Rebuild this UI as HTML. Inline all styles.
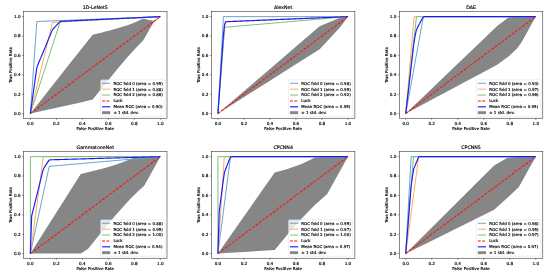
<!DOCTYPE html>
<html><head><meta charset="utf-8"><title>ROC curves</title>
<style>html,body{margin:0;padding:0;background:#fff;}svg{display:block;}</style>
</head><body>
<svg width="550" height="278" viewBox="0 0 550 278" font-family="'DejaVu Sans','Liberation Sans',sans-serif" fill="#000">
<style>text{text-rendering:geometricPrecision;stroke:#000;stroke-width:0.16px;stroke-linejoin:round}</style>
<rect width="550" height="278" fill="#fff"/>
<g>
<polygon fill="#868686" points="30.35,113.61 42.9,97.68 55.45,81.76 68,65.83 80.55,49.91 92.68,34.73 96.94,33.69 101.19,32.64 105.44,31.56 109.69,30.45 113.95,29.3 118.2,28.08 122.45,26.8 126.71,25.42 130.96,23.9 135.21,22.19 139.46,20.23 143.31,18.43 145.17,18.91 147.04,19.4 148.9,19.88 150.76,20.35 152.63,20.78 154.08,20.74 154.16,20.68 154.25,20.63 154.33,20.57 154.41,20.52 154.5,20.47 154.58,20.41 154.66,20.36 154.75,20.3 154.83,20.25 154.91,20.2 155,20.14 155.08,20.09 155.16,20.03 155.25,19.98 155.33,19.93 155.41,19.87 155.5,19.82 155.58,19.76 155.66,19.71 155.74,19.66 155.83,19.6 155.91,19.55 155.99,19.49 156.08,19.44 156.16,19.39 156.24,19.33 156.33,19.28 156.41,19.22 156.49,19.17 156.58,19.12 156.66,19.06 156.74,19.01 156.83,18.95 156.91,18.9 156.99,18.85 157.07,18.79 157.16,18.74 157.24,18.68 157.32,18.63 157.41,18.57 157.49,18.52 157.57,18.47 157.66,18.41 157.74,18.36 157.82,18.3 157.91,18.25 157.99,18.2 158.07,18.14 158.16,18.09 158.24,18.03 158.32,17.98 158.4,17.93 158.49,17.87 158.57,17.82 158.65,17.76 158.74,17.71 158.82,17.66 158.9,17.6 158.99,17.55 159.07,17.49 159.15,17.44 159.24,17.39 159.32,17.33 159.4,17.28 159.49,17.22 159.57,17.17 159.65,17.12 159.73,17.06 159.82,17.01 159.9,16.95 159.98,16.9 160.07,16.85 160.15,16.79 160.23,16.74 160.32,16.68 160.4,16.63 160.4,16.63 160.32,16.7 160.23,16.77 160.15,16.84 160.07,16.91 159.98,16.98 159.9,17.05 159.82,17.12 159.73,17.19 159.65,17.26 159.57,17.33 159.49,17.4 159.4,17.47 159.32,17.54 159.24,17.61 159.15,17.68 159.07,17.75 158.99,17.82 158.9,17.89 158.82,17.96 158.74,18.03 158.65,18.1 158.57,18.17 158.49,18.24 158.4,18.31 158.32,18.38 158.24,18.45 158.16,18.52 158.07,18.59 157.99,18.66 157.91,18.73 157.82,18.8 157.74,18.87 157.66,18.94 157.57,19.01 157.49,19.08 157.41,19.15 157.32,19.22 157.24,19.29 157.16,19.36 157.07,19.43 156.99,19.5 156.91,19.57 156.83,19.64 156.74,19.71 156.66,19.78 156.58,19.85 156.49,19.92 156.41,19.99 156.33,20.06 156.24,20.13 156.16,20.2 156.08,20.27 155.99,20.34 155.91,20.41 155.83,20.48 155.74,20.55 155.66,20.62 155.58,20.69 155.5,20.76 155.41,20.83 155.33,20.9 155.25,20.97 155.16,21.04 155.08,21.11 155,21.18 154.91,21.25 154.83,21.32 154.75,21.38 154.66,21.45 154.58,21.52 154.5,21.59 154.41,21.66 154.33,21.73 154.25,21.8 154.16,21.87 154.08,21.94 152.63,24.07 150.76,27.28 148.9,30.53 147.04,33.79 145.17,37.05 143.31,40.32 139.46,44.26 135.21,48.64 130.96,53.27 126.71,58.1 122.45,63.05 118.2,68.11 113.95,73.24 109.69,78.43 105.44,83.66 101.19,88.93 96.94,94.22 92.68,99.53 80.55,102.45 68,105.24 55.45,108.03 42.9,110.82 30.35,113.61"/>
<polyline fill="none" stroke="#6aa4d1" stroke-width="1.0" stroke-linejoin="round" points="30.35,113.61 36.85,21.48 160.4,16.63"/>
<polyline fill="none" stroke="#ffac63" stroke-width="1.0" stroke-linejoin="round" points="30.35,113.61 52.46,22.45 160.4,16.63"/>
<polyline fill="none" stroke="#78c278" stroke-width="1.0" stroke-linejoin="round" points="30.35,113.61 60.26,21.48 160.4,16.63"/>
<line x1="30.35" y1="113.61" x2="160.4" y2="16.63" stroke="#ff1010" stroke-width="1.05" stroke-dasharray="2.98,1.29"/>
<polyline fill="none" stroke="#1a1aff" stroke-width="1.15" stroke-linejoin="round" points="30.35,113.61 31.66,104.25 32.98,94.89 34.29,85.54 35.6,76.18 36.92,67.13 38.23,63.96 39.55,60.78 40.86,57.61 42.17,54.44 43.49,51.27 44.8,48.1 46.11,44.93 47.43,41.76 48.74,38.58 50.05,35.41 51.37,32.24 52.68,29.37 54,27.98 55.31,26.59 56.62,25.2 57.94,23.81 59.25,22.42 60.56,21.34 61.88,21.28 63.19,21.22 64.5,21.15 65.82,21.09 67.13,21.03 68.45,20.97 69.76,20.91 71.07,20.84 72.39,20.78 73.7,20.72 75.01,20.66 76.33,20.6 77.64,20.53 78.95,20.47 80.27,20.41 81.58,20.35 82.9,20.29 84.21,20.22 85.52,20.16 86.84,20.1 88.15,20.04 89.46,19.98 90.78,19.91 92.09,19.85 93.4,19.79 94.72,19.73 96.03,19.67 97.35,19.6 98.66,19.54 99.97,19.48 101.29,19.42 102.6,19.36 103.91,19.29 105.23,19.23 106.54,19.17 107.85,19.11 109.17,19.05 110.48,18.98 111.8,18.92 113.11,18.86 114.42,18.8 115.74,18.74 117.05,18.67 118.36,18.61 119.68,18.55 120.99,18.49 122.3,18.43 123.62,18.36 124.93,18.3 126.25,18.24 127.56,18.18 128.87,18.12 130.19,18.05 131.5,17.99 132.81,17.93 134.13,17.87 135.44,17.81 136.75,17.75 138.07,17.68 139.38,17.62 140.7,17.56 142.01,17.5 143.32,17.44 144.64,17.37 145.95,17.31 147.26,17.25 148.58,17.19 149.89,17.13 151.2,17.06 152.52,17 153.83,16.94 155.15,16.88 156.46,16.82 157.77,16.75 159.09,16.69 160.4,16.63"/>
<rect x="23.55" y="11.58" width="143.45" height="106.68" fill="none" stroke="#3a3a3a" stroke-width="0.6"/>
<line x1="30.35" y1="118.26" x2="30.35" y2="119.86" stroke="#222" stroke-width="0.45"/>
<text x="30.35" y="124.71" font-size="4.15" text-anchor="middle">0.0</text>
<line x1="21.95" y1="113.61" x2="23.55" y2="113.61" stroke="#222" stroke-width="0.45"/>
<text x="20.55" y="115.06" font-size="4.15" text-anchor="end">0.0</text>
<line x1="56.36" y1="118.26" x2="56.36" y2="119.86" stroke="#222" stroke-width="0.45"/>
<text x="56.36" y="124.71" font-size="4.15" text-anchor="middle">0.2</text>
<line x1="21.95" y1="94.21" x2="23.55" y2="94.21" stroke="#222" stroke-width="0.45"/>
<text x="20.55" y="95.66" font-size="4.15" text-anchor="end">0.2</text>
<line x1="82.37" y1="118.26" x2="82.37" y2="119.86" stroke="#222" stroke-width="0.45"/>
<text x="82.37" y="124.71" font-size="4.15" text-anchor="middle">0.4</text>
<line x1="21.95" y1="74.82" x2="23.55" y2="74.82" stroke="#222" stroke-width="0.45"/>
<text x="20.55" y="76.27" font-size="4.15" text-anchor="end">0.4</text>
<line x1="108.38" y1="118.26" x2="108.38" y2="119.86" stroke="#222" stroke-width="0.45"/>
<text x="108.38" y="124.71" font-size="4.15" text-anchor="middle">0.6</text>
<line x1="21.95" y1="55.42" x2="23.55" y2="55.42" stroke="#222" stroke-width="0.45"/>
<text x="20.55" y="56.87" font-size="4.15" text-anchor="end">0.6</text>
<line x1="134.39" y1="118.26" x2="134.39" y2="119.86" stroke="#222" stroke-width="0.45"/>
<text x="134.39" y="124.71" font-size="4.15" text-anchor="middle">0.8</text>
<line x1="21.95" y1="36.03" x2="23.55" y2="36.03" stroke="#222" stroke-width="0.45"/>
<text x="20.55" y="37.48" font-size="4.15" text-anchor="end">0.8</text>
<line x1="160.4" y1="118.26" x2="160.4" y2="119.86" stroke="#222" stroke-width="0.45"/>
<text x="160.4" y="124.71" font-size="4.15" text-anchor="middle">1.0</text>
<line x1="21.95" y1="16.63" x2="23.55" y2="16.63" stroke="#222" stroke-width="0.45"/>
<text x="20.55" y="18.08" font-size="4.15" text-anchor="end">1.0</text>
<text x="95.27" y="129.86" font-size="4.05" text-anchor="middle">False Positive Rate</text>
<text transform="translate(12.3,64.92) rotate(-90)" font-size="4.05" text-anchor="middle">True Positive Rate</text>
<text x="95.27" y="9.38" font-size="4.74" style="stroke-width:0.15px" text-anchor="middle">1D-LeNet5</text>
<rect x="100.55" y="79.78" width="64.5" height="36.48" rx="0.9" fill="#fff" fill-opacity="0.8" stroke="#ccc" stroke-opacity="0.8" stroke-width="0.4"/>
<line x1="102.05" y1="83.28" x2="110.25" y2="83.28" stroke="#6aa4d1" stroke-width="1.0"/>
<text x="113.45" y="84.73" font-size="4.0">ROC fold 0 (area = 0.95)</text>
<line x1="102.05" y1="89.16" x2="110.25" y2="89.16" stroke="#ffac63" stroke-width="1.0"/>
<text x="113.45" y="90.61" font-size="4.0">ROC fold 1 (area = 0.88)</text>
<line x1="102.05" y1="95.04" x2="110.25" y2="95.04" stroke="#78c278" stroke-width="1.0"/>
<text x="113.45" y="96.49" font-size="4.0">ROC fold 2 (area = 0.86)</text>
<line x1="102.05" y1="100.92" x2="110.25" y2="100.92" stroke="#ff1010" stroke-width="1.05" stroke-dasharray="2.98,1.29"/>
<text x="113.45" y="102.37" font-size="4.0">Luck</text>
<line x1="102.05" y1="106.8" x2="110.25" y2="106.8" stroke="#1a1aff" stroke-width="1.15"/>
<text x="113.45" y="108.25" font-size="4.0">Mean ROC (area = 0.90)</text>
<rect x="102.05" y="111.23" width="8.2" height="2.9" fill="#868686"/>
<text x="113.45" y="114.13" font-size="4.0">± 1 std. dev.</text>
</g>
<g>
<polygon fill="#868686" points="217.93,113.61 243.36,91.76 268.8,69.9 294.23,48.05 319.66,26.2 336.93,19.04 341.1,17.44 341.18,17.43 341.25,17.42 341.32,17.41 341.4,17.4 341.47,17.4 341.55,17.39 341.62,17.38 341.69,17.37 341.77,17.36 341.84,17.35 341.92,17.34 341.99,17.33 342.06,17.33 342.14,17.32 342.21,17.31 342.29,17.3 342.36,17.29 342.43,17.28 342.51,17.27 342.58,17.26 342.66,17.26 342.73,17.25 342.8,17.24 342.88,17.23 342.95,17.22 343.03,17.21 343.1,17.2 343.17,17.2 343.25,17.19 343.32,17.18 343.4,17.17 343.47,17.16 343.54,17.15 343.62,17.14 343.69,17.13 343.76,17.13 343.84,17.12 343.91,17.11 343.99,17.1 344.06,17.09 344.13,17.08 344.21,17.07 344.28,17.06 344.36,17.06 344.43,17.05 344.5,17.04 344.58,17.03 344.65,17.02 344.73,17.01 344.8,17 344.87,16.99 344.95,16.99 345.02,16.98 345.1,16.97 345.17,16.96 345.24,16.95 345.32,16.94 345.39,16.93 345.47,16.93 345.54,16.92 345.61,16.91 345.69,16.9 345.76,16.89 345.84,16.88 345.91,16.87 345.98,16.86 346.06,16.86 346.13,16.85 346.21,16.84 346.28,16.83 346.35,16.82 346.43,16.81 346.5,16.8 346.57,16.79 346.65,16.79 346.72,16.78 346.8,16.77 346.87,16.76 346.94,16.75 347.02,16.74 347.09,16.73 347.17,16.72 347.24,16.72 347.31,16.71 347.39,16.7 347.46,16.69 347.54,16.68 347.61,16.67 347.68,16.66 347.76,16.66 347.83,16.65 347.91,16.64 347.98,16.63 347.98,16.63 347.91,16.73 347.83,16.83 347.76,16.93 347.68,17.04 347.61,17.14 347.54,17.24 347.46,17.34 347.39,17.44 347.31,17.54 347.24,17.64 347.17,17.75 347.09,17.85 347.02,17.95 346.94,18.05 346.87,18.15 346.8,18.25 346.72,18.36 346.65,18.46 346.57,18.56 346.5,18.66 346.43,18.76 346.35,18.86 346.28,18.97 346.21,19.07 346.13,19.17 346.06,19.27 345.98,19.37 345.91,19.47 345.84,19.58 345.76,19.68 345.69,19.78 345.61,19.88 345.54,19.98 345.47,20.08 345.39,20.18 345.32,20.29 345.24,20.39 345.17,20.49 345.1,20.59 345.02,20.69 344.95,20.79 344.87,20.9 344.8,21 344.73,21.1 344.65,21.2 344.58,21.3 344.5,21.4 344.43,21.51 344.36,21.61 344.28,21.71 344.21,21.81 344.13,21.91 344.06,22.01 343.99,22.11 343.91,22.22 343.84,22.32 343.76,22.42 343.69,22.52 343.62,22.62 343.54,22.72 343.47,22.83 343.4,22.93 343.32,23.03 343.25,23.13 343.17,23.23 343.1,23.33 343.03,23.44 342.95,23.54 342.88,23.64 342.8,23.74 342.73,23.84 342.66,23.94 342.58,24.04 342.51,24.15 342.43,24.25 342.36,24.35 342.29,24.45 342.21,24.55 342.14,24.65 342.06,24.76 341.99,24.86 341.92,24.96 341.84,25.06 341.77,25.16 341.69,25.26 341.62,25.37 341.55,25.47 341.47,25.57 341.4,25.67 341.32,25.77 341.25,25.87 341.18,25.98 341.1,26.08 336.93,30.69 319.66,49.29 294.23,65.37 268.8,81.45 243.36,97.53 217.93,113.61"/>
<polyline fill="none" stroke="#6aa4d1" stroke-width="1.0" stroke-linejoin="round" points="217.93,113.61 223.46,16.63 347.98,16.63"/>
<polyline fill="none" stroke="#ffac63" stroke-width="1.0" stroke-linejoin="round" points="217.93,113.61 225.08,21.48 347.98,16.63"/>
<polyline fill="none" stroke="#78c278" stroke-width="1.0" stroke-linejoin="round" points="217.93,113.61 224.63,27.3 347.98,16.63"/>
<line x1="217.93" y1="113.61" x2="347.98" y2="16.63" stroke="#ff1010" stroke-width="1.05" stroke-dasharray="2.98,1.29"/>
<polyline fill="none" stroke="#1a1aff" stroke-width="1.15" stroke-linejoin="round" points="217.93,113.61 219.24,94.64 220.56,75.68 221.87,56.71 223.18,37.74 224.5,24.87 225.81,21.76 227.13,21.7 228.44,21.65 229.75,21.59 231.07,21.54 232.38,21.48 233.69,21.43 235.01,21.37 236.32,21.32 237.63,21.26 238.95,21.21 240.26,21.15 241.58,21.1 242.89,21.04 244.2,20.99 245.52,20.93 246.83,20.88 248.14,20.82 249.46,20.77 250.77,20.71 252.08,20.65 253.4,20.6 254.71,20.54 256.03,20.49 257.34,20.43 258.65,20.38 259.97,20.32 261.28,20.27 262.59,20.21 263.91,20.16 265.22,20.1 266.53,20.05 267.85,19.99 269.16,19.94 270.48,19.88 271.79,19.83 273.1,19.77 274.42,19.72 275.73,19.66 277.04,19.61 278.36,19.55 279.67,19.5 280.98,19.44 282.3,19.39 283.61,19.33 284.93,19.28 286.24,19.22 287.55,19.17 288.87,19.11 290.18,19.06 291.49,19 292.81,18.95 294.12,18.89 295.43,18.83 296.75,18.78 298.06,18.72 299.38,18.67 300.69,18.61 302,18.56 303.32,18.5 304.63,18.45 305.94,18.39 307.26,18.34 308.57,18.28 309.88,18.23 311.2,18.17 312.51,18.12 313.83,18.06 315.14,18.01 316.45,17.95 317.77,17.9 319.08,17.84 320.39,17.79 321.71,17.73 323.02,17.68 324.33,17.62 325.65,17.57 326.96,17.51 328.28,17.46 329.59,17.4 330.9,17.35 332.22,17.29 333.53,17.24 334.84,17.18 336.16,17.13 337.47,17.07 338.78,17.02 340.1,16.96 341.41,16.9 342.73,16.85 344.04,16.79 345.35,16.74 346.67,16.68 347.98,16.63"/>
<rect x="211.43" y="11.58" width="143.45" height="106.68" fill="none" stroke="#3a3a3a" stroke-width="0.6"/>
<line x1="217.93" y1="118.26" x2="217.93" y2="119.86" stroke="#222" stroke-width="0.45"/>
<text x="217.93" y="124.71" font-size="4.15" text-anchor="middle">0.0</text>
<line x1="209.83" y1="113.61" x2="211.43" y2="113.61" stroke="#222" stroke-width="0.45"/>
<text x="208.43" y="115.06" font-size="4.15" text-anchor="end">0.0</text>
<line x1="243.94" y1="118.26" x2="243.94" y2="119.86" stroke="#222" stroke-width="0.45"/>
<text x="243.94" y="124.71" font-size="4.15" text-anchor="middle">0.2</text>
<line x1="209.83" y1="94.21" x2="211.43" y2="94.21" stroke="#222" stroke-width="0.45"/>
<text x="208.43" y="95.66" font-size="4.15" text-anchor="end">0.2</text>
<line x1="269.95" y1="118.26" x2="269.95" y2="119.86" stroke="#222" stroke-width="0.45"/>
<text x="269.95" y="124.71" font-size="4.15" text-anchor="middle">0.4</text>
<line x1="209.83" y1="74.82" x2="211.43" y2="74.82" stroke="#222" stroke-width="0.45"/>
<text x="208.43" y="76.27" font-size="4.15" text-anchor="end">0.4</text>
<line x1="295.96" y1="118.26" x2="295.96" y2="119.86" stroke="#222" stroke-width="0.45"/>
<text x="295.96" y="124.71" font-size="4.15" text-anchor="middle">0.6</text>
<line x1="209.83" y1="55.42" x2="211.43" y2="55.42" stroke="#222" stroke-width="0.45"/>
<text x="208.43" y="56.87" font-size="4.15" text-anchor="end">0.6</text>
<line x1="321.97" y1="118.26" x2="321.97" y2="119.86" stroke="#222" stroke-width="0.45"/>
<text x="321.97" y="124.71" font-size="4.15" text-anchor="middle">0.8</text>
<line x1="209.83" y1="36.03" x2="211.43" y2="36.03" stroke="#222" stroke-width="0.45"/>
<text x="208.43" y="37.48" font-size="4.15" text-anchor="end">0.8</text>
<line x1="347.98" y1="118.26" x2="347.98" y2="119.86" stroke="#222" stroke-width="0.45"/>
<text x="347.98" y="124.71" font-size="4.15" text-anchor="middle">1.0</text>
<line x1="209.83" y1="16.63" x2="211.43" y2="16.63" stroke="#222" stroke-width="0.45"/>
<text x="208.43" y="18.08" font-size="4.15" text-anchor="end">1.0</text>
<text x="283.15" y="129.86" font-size="4.05" text-anchor="middle">False Positive Rate</text>
<text transform="translate(200.18,64.92) rotate(-90)" font-size="4.05" text-anchor="middle">True Positive Rate</text>
<text x="283.15" y="9.38" font-size="4.74" style="stroke-width:0.15px" text-anchor="middle">AlexNet</text>
<rect x="288.43" y="79.78" width="64.5" height="36.48" rx="0.9" fill="#fff" fill-opacity="0.8" stroke="#ccc" stroke-opacity="0.8" stroke-width="0.4"/>
<line x1="289.93" y1="83.28" x2="298.13" y2="83.28" stroke="#6aa4d1" stroke-width="1.0"/>
<text x="301.33" y="84.73" font-size="4.0">ROC fold 0 (area = 0.98)</text>
<line x1="289.93" y1="89.16" x2="298.13" y2="89.16" stroke="#ffac63" stroke-width="1.0"/>
<text x="301.33" y="90.61" font-size="4.0">ROC fold 1 (area = 0.95)</text>
<line x1="289.93" y1="95.04" x2="298.13" y2="95.04" stroke="#78c278" stroke-width="1.0"/>
<text x="301.33" y="96.49" font-size="4.0">ROC fold 2 (area = 0.92)</text>
<line x1="289.93" y1="100.92" x2="298.13" y2="100.92" stroke="#ff1010" stroke-width="1.05" stroke-dasharray="2.98,1.29"/>
<text x="301.33" y="102.37" font-size="4.0">Luck</text>
<line x1="289.93" y1="106.8" x2="298.13" y2="106.8" stroke="#1a1aff" stroke-width="1.15"/>
<text x="301.33" y="108.25" font-size="4.0">Mean ROC (area = 0.95)</text>
<rect x="289.93" y="111.23" width="8.2" height="2.9" fill="#868686"/>
<text x="301.33" y="114.13" font-size="4.0">± 1 std. dev.</text>
</g>
<g>
<polygon fill="#868686" points="405.71,113.61 420.94,99.02 436.17,84.44 451.41,69.85 466.64,55.27 481.87,40.68 497.1,26.09 508.53,17.47 517.02,16.63 521.39,16.63 524.61,16.63 527.83,16.63 531.05,16.63 534.27,16.63 535.76,16.63 535.76,16.63 535.76,16.63 535.76,16.63 535.76,16.63 535.76,16.63 535.76,16.63 535.76,16.63 535.76,16.63 535.76,16.63 535.76,16.63 535.76,16.63 535.76,16.63 535.76,16.63 535.76,16.63 535.76,16.63 535.76,16.63 535.76,16.63 535.76,16.63 535.76,16.63 535.76,16.63 535.76,16.63 535.76,16.63 535.76,16.63 535.76,16.63 535.76,16.63 535.76,16.63 535.76,16.63 535.76,16.63 535.76,16.63 535.76,16.63 535.76,16.63 535.76,16.63 535.76,16.63 535.76,16.63 535.76,16.63 535.76,16.63 535.76,16.63 535.76,16.63 535.76,16.63 535.76,16.63 535.76,16.63 535.76,16.63 535.76,16.63 535.76,16.63 535.76,16.63 535.76,16.63 535.76,16.63 535.76,16.63 535.76,16.63 535.76,16.63 535.76,16.63 535.76,16.63 535.76,16.63 535.76,16.63 535.76,16.63 535.76,16.63 535.76,16.63 535.76,16.63 535.76,16.63 535.76,16.63 535.76,16.63 535.76,16.63 535.76,16.63 535.76,16.63 535.76,16.63 535.76,16.63 535.76,16.63 535.76,16.63 535.76,16.63 535.76,16.63 535.76,16.63 535.76,16.63 535.76,16.63 535.76,16.63 535.76,16.63 535.76,16.63 535.76,16.63 535.76,16.63 535.76,16.63 535.76,16.63 535.76,16.63 535.76,16.63 535.76,16.63 535.76,16.63 535.76,16.63 535.76,16.63 535.76,16.63 535.76,16.63 535.76,16.63 535.76,16.63 535.76,16.63 535.76,16.63 535.76,16.63 535.76,16.63 535.76,16.63 535.76,16.63 535.76,16.63 535.76,16.63 535.76,16.63 535.76,16.63 535.76,16.63 535.76,16.63 535.76,16.63 535.76,16.63 535.76,16.63 535.76,16.63 535.76,16.63 535.76,16.63 535.76,16.63 535.76,16.63 535.76,16.63 535.76,16.63 535.76,16.63 535.76,16.63 535.76,16.63 535.76,16.63 535.76,16.63 535.76,16.63 535.76,16.63 535.76,16.63 535.76,16.63 535.76,16.63 535.76,16.63 535.76,16.63 535.76,16.63 535.76,16.63 535.76,16.63 535.76,16.63 535.76,16.63 535.76,16.63 535.76,16.63 535.76,16.63 535.76,16.63 535.76,16.63 535.76,16.63 535.76,16.63 535.76,16.63 535.76,16.63 535.76,16.63 535.76,16.63 535.76,16.63 535.76,16.63 535.76,16.63 535.76,16.63 535.76,16.63 535.76,16.63 535.76,16.63 535.76,16.63 535.76,16.63 535.76,16.63 535.76,16.63 535.76,16.63 535.76,16.63 535.76,16.63 535.76,16.63 535.76,16.63 535.76,16.63 535.76,16.63 535.76,16.63 535.76,16.63 535.76,16.63 535.76,16.63 535.76,16.63 535.76,16.63 535.76,16.63 535.76,16.63 535.76,16.63 535.76,16.63 535.76,16.63 535.76,16.63 535.76,16.63 534.27,19.32 531.05,25.12 527.83,30.91 524.61,36.71 521.39,42.5 517.02,48.58 508.53,56.4 497.1,64.82 481.87,72.95 466.64,81.08 451.41,89.22 436.17,97.35 420.94,105.48 405.71,113.61"/>
<polyline fill="none" stroke="#6aa4d1" stroke-width="1.0" stroke-linejoin="round" points="405.71,113.61 423.4,16.63 535.76,16.63"/>
<polyline fill="none" stroke="#ffac63" stroke-width="1.0" stroke-linejoin="round" points="405.71,113.61 414.16,16.63 535.76,16.63"/>
<polyline fill="none" stroke="#78c278" stroke-width="1.0" stroke-linejoin="round" points="405.71,113.61 416.5,16.63 535.76,16.63"/>
<line x1="405.71" y1="113.61" x2="535.76" y2="16.63" stroke="#ff1010" stroke-width="1.05" stroke-dasharray="2.98,1.29"/>
<polyline fill="none" stroke="#1a1aff" stroke-width="1.15" stroke-linejoin="round" points="405.71,113.61 407.02,102.25 408.34,90.89 409.65,79.53 410.96,68.18 412.28,56.82 413.59,45.46 414.91,36.94 416.22,30.6 417.53,27.35 418.85,24.95 420.16,22.55 421.47,20.14 422.79,17.74 424.1,16.63 425.41,16.63 426.73,16.63 428.04,16.63 429.36,16.63 430.67,16.63 431.98,16.63 433.3,16.63 434.61,16.63 435.92,16.63 437.24,16.63 438.55,16.63 439.86,16.63 441.18,16.63 442.49,16.63 443.81,16.63 445.12,16.63 446.43,16.63 447.75,16.63 449.06,16.63 450.37,16.63 451.69,16.63 453,16.63 454.31,16.63 455.63,16.63 456.94,16.63 458.26,16.63 459.57,16.63 460.88,16.63 462.2,16.63 463.51,16.63 464.82,16.63 466.14,16.63 467.45,16.63 468.76,16.63 470.08,16.63 471.39,16.63 472.71,16.63 474.02,16.63 475.33,16.63 476.65,16.63 477.96,16.63 479.27,16.63 480.59,16.63 481.9,16.63 483.21,16.63 484.53,16.63 485.84,16.63 487.16,16.63 488.47,16.63 489.78,16.63 491.1,16.63 492.41,16.63 493.72,16.63 495.04,16.63 496.35,16.63 497.66,16.63 498.98,16.63 500.29,16.63 501.61,16.63 502.92,16.63 504.23,16.63 505.55,16.63 506.86,16.63 508.17,16.63 509.49,16.63 510.8,16.63 512.11,16.63 513.43,16.63 514.74,16.63 516.06,16.63 517.37,16.63 518.68,16.63 520,16.63 521.31,16.63 522.62,16.63 523.94,16.63 525.25,16.63 526.56,16.63 527.88,16.63 529.19,16.63 530.51,16.63 531.82,16.63 533.13,16.63 534.45,16.63 535.76,16.63"/>
<rect x="399.31" y="11.58" width="143.45" height="106.68" fill="none" stroke="#3a3a3a" stroke-width="0.6"/>
<line x1="405.71" y1="118.26" x2="405.71" y2="119.86" stroke="#222" stroke-width="0.45"/>
<text x="405.71" y="124.71" font-size="4.15" text-anchor="middle">0.0</text>
<line x1="397.71" y1="113.61" x2="399.31" y2="113.61" stroke="#222" stroke-width="0.45"/>
<text x="396.31" y="115.06" font-size="4.15" text-anchor="end">0.0</text>
<line x1="431.72" y1="118.26" x2="431.72" y2="119.86" stroke="#222" stroke-width="0.45"/>
<text x="431.72" y="124.71" font-size="4.15" text-anchor="middle">0.2</text>
<line x1="397.71" y1="94.21" x2="399.31" y2="94.21" stroke="#222" stroke-width="0.45"/>
<text x="396.31" y="95.66" font-size="4.15" text-anchor="end">0.2</text>
<line x1="457.73" y1="118.26" x2="457.73" y2="119.86" stroke="#222" stroke-width="0.45"/>
<text x="457.73" y="124.71" font-size="4.15" text-anchor="middle">0.4</text>
<line x1="397.71" y1="74.82" x2="399.31" y2="74.82" stroke="#222" stroke-width="0.45"/>
<text x="396.31" y="76.27" font-size="4.15" text-anchor="end">0.4</text>
<line x1="483.74" y1="118.26" x2="483.74" y2="119.86" stroke="#222" stroke-width="0.45"/>
<text x="483.74" y="124.71" font-size="4.15" text-anchor="middle">0.6</text>
<line x1="397.71" y1="55.42" x2="399.31" y2="55.42" stroke="#222" stroke-width="0.45"/>
<text x="396.31" y="56.87" font-size="4.15" text-anchor="end">0.6</text>
<line x1="509.75" y1="118.26" x2="509.75" y2="119.86" stroke="#222" stroke-width="0.45"/>
<text x="509.75" y="124.71" font-size="4.15" text-anchor="middle">0.8</text>
<line x1="397.71" y1="36.03" x2="399.31" y2="36.03" stroke="#222" stroke-width="0.45"/>
<text x="396.31" y="37.48" font-size="4.15" text-anchor="end">0.8</text>
<line x1="535.76" y1="118.26" x2="535.76" y2="119.86" stroke="#222" stroke-width="0.45"/>
<text x="535.76" y="124.71" font-size="4.15" text-anchor="middle">1.0</text>
<line x1="397.71" y1="16.63" x2="399.31" y2="16.63" stroke="#222" stroke-width="0.45"/>
<text x="396.31" y="18.08" font-size="4.15" text-anchor="end">1.0</text>
<text x="471.03" y="129.86" font-size="4.05" text-anchor="middle">False Positive Rate</text>
<text transform="translate(388.06,64.92) rotate(-90)" font-size="4.05" text-anchor="middle">True Positive Rate</text>
<text x="471.03" y="9.38" font-size="4.74" style="stroke-width:0.15px" text-anchor="middle">DAE</text>
<rect x="476.31" y="79.78" width="64.5" height="36.48" rx="0.9" fill="#fff" fill-opacity="0.8" stroke="#ccc" stroke-opacity="0.8" stroke-width="0.4"/>
<line x1="477.81" y1="83.28" x2="486.01" y2="83.28" stroke="#6aa4d1" stroke-width="1.0"/>
<text x="489.21" y="84.73" font-size="4.0">ROC fold 0 (area = 0.93)</text>
<line x1="477.81" y1="89.16" x2="486.01" y2="89.16" stroke="#ffac63" stroke-width="1.0"/>
<text x="489.21" y="90.61" font-size="4.0">ROC fold 1 (area = 0.97)</text>
<line x1="477.81" y1="95.04" x2="486.01" y2="95.04" stroke="#78c278" stroke-width="1.0"/>
<text x="489.21" y="96.49" font-size="4.0">ROC fold 2 (area = 0.96)</text>
<line x1="477.81" y1="100.92" x2="486.01" y2="100.92" stroke="#ff1010" stroke-width="1.05" stroke-dasharray="2.98,1.29"/>
<text x="489.21" y="102.37" font-size="4.0">Luck</text>
<line x1="477.81" y1="106.8" x2="486.01" y2="106.8" stroke="#1a1aff" stroke-width="1.15"/>
<text x="489.21" y="108.25" font-size="4.0">Mean ROC (area = 0.95)</text>
<rect x="477.81" y="111.23" width="8.2" height="2.9" fill="#868686"/>
<text x="489.21" y="114.13" font-size="4.0">± 1 std. dev.</text>
</g>
<g>
<polygon fill="#868686" points="30.35,253.61 80.8,173.99 87.89,172.35 94.99,170.62 102.09,168.77 109.18,166.77 116.28,164.55 123.38,162.01 130.47,159.04 137.57,156.63 144.23,156.63 146.95,156.63 149.66,156.63 152.38,156.63 155.1,156.63 156.1,156.63 156.15,156.63 156.2,156.63 156.25,156.63 156.3,156.63 156.35,156.63 156.41,156.63 156.46,156.63 156.51,156.63 156.56,156.63 156.61,156.63 156.66,156.63 156.71,156.63 156.76,156.63 156.82,156.63 156.87,156.63 156.92,156.63 156.97,156.63 157.02,156.63 157.07,156.63 157.12,156.63 157.17,156.63 157.22,156.63 157.28,156.63 157.33,156.63 157.38,156.63 157.43,156.63 157.48,156.63 157.53,156.63 157.58,156.63 157.63,156.63 157.69,156.63 157.74,156.63 157.79,156.63 157.84,156.63 157.89,156.63 157.94,156.63 157.99,156.63 158.04,156.63 158.1,156.63 158.15,156.63 158.2,156.63 158.25,156.63 158.3,156.63 158.35,156.63 158.4,156.63 158.45,156.63 158.51,156.63 158.56,156.63 158.61,156.63 158.66,156.63 158.71,156.63 158.76,156.63 158.81,156.63 158.86,156.63 158.91,156.63 158.97,156.63 159.02,156.63 159.07,156.63 159.12,156.63 159.17,156.63 159.22,156.63 159.27,156.63 159.32,156.63 159.38,156.63 159.43,156.63 159.48,156.63 159.53,156.63 159.58,156.63 159.63,156.63 159.68,156.63 159.73,156.63 159.79,156.63 159.84,156.63 159.89,156.63 159.94,156.63 159.99,156.63 160.04,156.63 160.09,156.63 160.14,156.63 160.2,156.63 160.25,156.63 160.3,156.63 160.35,156.63 160.4,156.63 160.4,156.63 160.35,156.72 160.3,156.81 160.25,156.91 160.2,157 160.14,157.09 160.09,157.18 160.04,157.27 159.99,157.37 159.94,157.46 159.89,157.55 159.84,157.64 159.79,157.74 159.73,157.83 159.68,157.92 159.63,158.01 159.58,158.1 159.53,158.2 159.48,158.29 159.43,158.38 159.38,158.47 159.32,158.57 159.27,158.66 159.22,158.75 159.17,158.84 159.12,158.93 159.07,159.03 159.02,159.12 158.97,159.21 158.91,159.3 158.86,159.4 158.81,159.49 158.76,159.58 158.71,159.67 158.66,159.76 158.61,159.86 158.56,159.95 158.51,160.04 158.45,160.13 158.4,160.22 158.35,160.32 158.3,160.41 158.25,160.5 158.2,160.59 158.15,160.69 158.1,160.78 158.04,160.87 157.99,160.96 157.94,161.05 157.89,161.15 157.84,161.24 157.79,161.33 157.74,161.42 157.69,161.52 157.63,161.61 157.58,161.7 157.53,161.79 157.48,161.88 157.43,161.98 157.38,162.07 157.33,162.16 157.28,162.25 157.22,162.35 157.17,162.44 157.12,162.53 157.07,162.62 157.02,162.71 156.97,162.81 156.92,162.9 156.87,162.99 156.82,163.08 156.76,163.18 156.71,163.27 156.66,163.36 156.61,163.45 156.56,163.54 156.51,163.64 156.46,163.73 156.41,163.82 156.35,163.91 156.3,164.01 156.25,164.1 156.2,164.19 156.15,164.28 156.1,164.37 155.1,166.17 152.38,171.06 149.66,175.96 146.95,180.85 144.23,185.74 137.57,191.86 130.47,198.85 123.38,206.46 116.28,214.51 109.18,222.87 102.09,231.46 94.99,240.2 87.89,249.05 80.8,253.61 30.35,253.61"/>
<polyline fill="none" stroke="#6aa4d1" stroke-width="1.0" stroke-linejoin="round" points="30.35,253.61 49.21,166.33 160.4,156.63"/>
<polyline fill="none" stroke="#ffac63" stroke-width="1.0" stroke-linejoin="round" points="30.35,253.61 43.36,156.63 160.4,156.63"/>
<polyline fill="none" stroke="#78c278" stroke-width="1.0" stroke-linejoin="round" points="30.35,253.61 30.35,156.63 160.4,156.63"/>
<line x1="30.35" y1="253.61" x2="160.4" y2="156.63" stroke="#ff1010" stroke-width="1.05" stroke-dasharray="2.98,1.29"/>
<polyline fill="none" stroke="#1a1aff" stroke-width="1.15" stroke-linejoin="round" points="30.35,253.61 31.66,215.99 32.98,210.7 34.29,205.41 35.6,200.11 36.92,194.82 38.23,189.53 39.55,184.24 40.86,178.95 42.17,173.65 43.49,168.69 44.8,166.66 46.11,164.63 47.43,162.61 48.74,160.58 50.05,159.84 51.37,159.8 52.68,159.76 54,159.72 55.31,159.68 56.62,159.65 57.94,159.61 59.25,159.57 60.56,159.53 61.88,159.49 63.19,159.46 64.5,159.42 65.82,159.38 67.13,159.34 68.45,159.3 69.76,159.26 71.07,159.23 72.39,159.19 73.7,159.15 75.01,159.11 76.33,159.07 77.64,159.04 78.95,159 80.27,158.96 81.58,158.92 82.9,158.88 84.21,158.84 85.52,158.81 86.84,158.77 88.15,158.73 89.46,158.69 90.78,158.65 92.09,158.62 93.4,158.58 94.72,158.54 96.03,158.5 97.35,158.46 98.66,158.42 99.97,158.39 101.29,158.35 102.6,158.31 103.91,158.27 105.23,158.23 106.54,158.19 107.85,158.16 109.17,158.12 110.48,158.08 111.8,158.04 113.11,158 114.42,157.97 115.74,157.93 117.05,157.89 118.36,157.85 119.68,157.81 120.99,157.77 122.3,157.74 123.62,157.7 124.93,157.66 126.25,157.62 127.56,157.58 128.87,157.55 130.19,157.51 131.5,157.47 132.81,157.43 134.13,157.39 135.44,157.35 136.75,157.32 138.07,157.28 139.38,157.24 140.7,157.2 142.01,157.16 143.32,157.13 144.64,157.09 145.95,157.05 147.26,157.01 148.58,156.97 149.89,156.93 151.2,156.9 152.52,156.86 153.83,156.82 155.15,156.78 156.46,156.74 157.77,156.71 159.09,156.67 160.4,156.63"/>
<rect x="23.55" y="151.58" width="143.45" height="106.68" fill="none" stroke="#3a3a3a" stroke-width="0.6"/>
<line x1="30.35" y1="258.26" x2="30.35" y2="259.86" stroke="#222" stroke-width="0.45"/>
<text x="30.35" y="264.71" font-size="4.15" text-anchor="middle">0.0</text>
<line x1="21.95" y1="253.61" x2="23.55" y2="253.61" stroke="#222" stroke-width="0.45"/>
<text x="20.55" y="255.06" font-size="4.15" text-anchor="end">0.0</text>
<line x1="56.36" y1="258.26" x2="56.36" y2="259.86" stroke="#222" stroke-width="0.45"/>
<text x="56.36" y="264.71" font-size="4.15" text-anchor="middle">0.2</text>
<line x1="21.95" y1="234.21" x2="23.55" y2="234.21" stroke="#222" stroke-width="0.45"/>
<text x="20.55" y="235.66" font-size="4.15" text-anchor="end">0.2</text>
<line x1="82.37" y1="258.26" x2="82.37" y2="259.86" stroke="#222" stroke-width="0.45"/>
<text x="82.37" y="264.71" font-size="4.15" text-anchor="middle">0.4</text>
<line x1="21.95" y1="214.82" x2="23.55" y2="214.82" stroke="#222" stroke-width="0.45"/>
<text x="20.55" y="216.27" font-size="4.15" text-anchor="end">0.4</text>
<line x1="108.38" y1="258.26" x2="108.38" y2="259.86" stroke="#222" stroke-width="0.45"/>
<text x="108.38" y="264.71" font-size="4.15" text-anchor="middle">0.6</text>
<line x1="21.95" y1="195.42" x2="23.55" y2="195.42" stroke="#222" stroke-width="0.45"/>
<text x="20.55" y="196.87" font-size="4.15" text-anchor="end">0.6</text>
<line x1="134.39" y1="258.26" x2="134.39" y2="259.86" stroke="#222" stroke-width="0.45"/>
<text x="134.39" y="264.71" font-size="4.15" text-anchor="middle">0.8</text>
<line x1="21.95" y1="176.03" x2="23.55" y2="176.03" stroke="#222" stroke-width="0.45"/>
<text x="20.55" y="177.48" font-size="4.15" text-anchor="end">0.8</text>
<line x1="160.4" y1="258.26" x2="160.4" y2="259.86" stroke="#222" stroke-width="0.45"/>
<text x="160.4" y="264.71" font-size="4.15" text-anchor="middle">1.0</text>
<line x1="21.95" y1="156.63" x2="23.55" y2="156.63" stroke="#222" stroke-width="0.45"/>
<text x="20.55" y="158.08" font-size="4.15" text-anchor="end">1.0</text>
<text x="95.27" y="269.86" font-size="4.05" text-anchor="middle">False Positive Rate</text>
<text transform="translate(12.3,204.92) rotate(-90)" font-size="4.05" text-anchor="middle">True Positive Rate</text>
<text x="95.27" y="149.38" font-size="4.74" style="stroke-width:0.15px" text-anchor="middle">GammatoneNet</text>
<rect x="100.55" y="219.78" width="64.5" height="36.48" rx="0.9" fill="#fff" fill-opacity="0.8" stroke="#ccc" stroke-opacity="0.8" stroke-width="0.4"/>
<line x1="102.05" y1="223.28" x2="110.25" y2="223.28" stroke="#6aa4d1" stroke-width="1.0"/>
<text x="113.45" y="224.73" font-size="4.0">ROC fold 0 (area = 0.88)</text>
<line x1="102.05" y1="229.16" x2="110.25" y2="229.16" stroke="#ffac63" stroke-width="1.0"/>
<text x="113.45" y="230.61" font-size="4.0">ROC fold 1 (area = 0.95)</text>
<line x1="102.05" y1="235.04" x2="110.25" y2="235.04" stroke="#78c278" stroke-width="1.0"/>
<text x="113.45" y="236.49" font-size="4.0">ROC fold 2 (area = 1.00)</text>
<line x1="102.05" y1="240.92" x2="110.25" y2="240.92" stroke="#ff1010" stroke-width="1.05" stroke-dasharray="2.98,1.29"/>
<text x="113.45" y="242.37" font-size="4.0">Luck</text>
<line x1="102.05" y1="246.8" x2="110.25" y2="246.8" stroke="#1a1aff" stroke-width="1.15"/>
<text x="113.45" y="248.25" font-size="4.0">Mean ROC (area = 0.94)</text>
<rect x="102.05" y="251.23" width="8.2" height="2.9" fill="#868686"/>
<text x="113.45" y="254.13" font-size="4.0">± 1 std. dev.</text>
</g>
<g>
<polygon fill="#868686" points="217.93,253.61 274.73,172.42 288.18,168.67 301.63,163.91 315.08,157.46 327.2,156.63 331.72,156.63 336.23,156.63 340.74,156.63 345.26,156.63 347.98,156.63 347.98,156.63 347.98,156.63 347.98,156.63 347.98,156.63 347.98,156.63 347.98,156.63 347.98,156.63 347.98,156.63 347.98,156.63 347.98,156.63 347.98,156.63 347.98,156.63 347.98,156.63 347.98,156.63 347.98,156.63 347.98,156.63 347.98,156.63 347.98,156.63 347.98,156.63 347.98,156.63 347.98,156.63 347.98,156.63 347.98,156.63 347.98,156.63 347.98,156.63 347.98,156.63 347.98,156.63 347.98,156.63 347.98,156.63 347.98,156.63 347.98,156.63 347.98,156.63 347.98,156.63 347.98,156.63 347.98,156.63 347.98,156.63 347.98,156.63 347.98,156.63 347.98,156.63 347.98,156.63 347.98,156.63 347.98,156.63 347.98,156.63 347.98,156.63 347.98,156.63 347.98,156.63 347.98,156.63 347.98,156.63 347.98,156.63 347.98,156.63 347.98,156.63 347.98,156.63 347.98,156.63 347.98,156.63 347.98,156.63 347.98,156.63 347.98,156.63 347.98,156.63 347.98,156.63 347.98,156.63 347.98,156.63 347.98,156.63 347.98,156.63 347.98,156.63 347.98,156.63 347.98,156.63 347.98,156.63 347.98,156.63 347.98,156.63 347.98,156.63 347.98,156.63 347.98,156.63 347.98,156.63 347.98,156.63 347.98,156.63 347.98,156.63 347.98,156.63 347.98,156.63 347.98,156.63 347.98,156.63 347.98,156.63 347.98,156.63 347.98,156.63 347.98,156.63 347.98,156.63 347.98,156.63 347.98,156.63 347.98,156.63 347.98,156.63 347.98,156.63 347.98,156.63 347.98,156.63 347.98,156.63 347.98,156.63 347.98,156.63 347.98,156.63 347.98,156.63 347.98,156.63 347.98,156.63 347.98,156.63 347.98,156.63 347.98,156.63 347.98,156.63 347.98,156.63 347.98,156.63 347.98,156.63 347.98,156.63 347.98,156.63 347.98,156.63 347.98,156.63 347.98,156.63 347.98,156.63 347.98,156.63 347.98,156.63 347.98,156.63 347.98,156.63 347.98,156.63 347.98,156.63 347.98,156.63 347.98,156.63 347.98,156.63 347.98,156.63 347.98,156.63 347.98,156.63 347.98,156.63 347.98,156.63 347.98,156.63 347.98,156.63 347.98,156.63 347.98,156.63 347.98,156.63 347.98,156.63 347.98,156.63 347.98,156.63 347.98,156.63 347.98,156.63 347.98,156.63 347.98,156.63 347.98,156.63 347.98,156.63 347.98,156.63 347.98,156.63 347.98,156.63 347.98,156.63 347.98,156.63 347.98,156.63 347.98,156.63 347.98,156.63 347.98,156.63 347.98,156.63 347.98,156.63 347.98,156.63 347.98,156.63 347.98,156.63 347.98,156.63 347.98,156.63 347.98,156.63 347.98,156.63 347.98,156.63 347.98,156.63 347.98,156.63 347.98,156.63 347.98,156.63 347.98,156.63 347.98,156.63 347.98,156.63 347.98,156.63 347.98,156.63 347.98,156.63 347.98,156.63 347.98,156.63 347.98,156.63 347.98,156.63 347.98,156.63 347.98,156.63 347.98,156.63 347.98,156.63 347.98,156.63 347.98,156.63 345.26,161.53 340.74,169.66 336.23,177.78 331.72,185.91 327.2,194.04 315.08,204.87 301.63,218.47 288.18,233.77 274.73,250.09 217.93,253.61"/>
<polyline fill="none" stroke="#6aa4d1" stroke-width="1.0" stroke-linejoin="round" points="217.93,253.61 230.54,156.63 347.98,156.63"/>
<polyline fill="none" stroke="#ffac63" stroke-width="1.0" stroke-linejoin="round" points="217.93,253.61 224.3,156.63 347.98,156.63"/>
<polyline fill="none" stroke="#78c278" stroke-width="1.0" stroke-linejoin="round" points="217.93,253.61 217.93,156.63 347.98,156.63"/>
<line x1="217.93" y1="253.61" x2="347.98" y2="156.63" stroke="#ff1010" stroke-width="1.05" stroke-dasharray="2.98,1.29"/>
<polyline fill="none" stroke="#1a1aff" stroke-width="1.15" stroke-linejoin="round" points="217.93,253.61 219.24,211.25 220.56,201.22 221.87,191.19 223.18,181.16 224.5,172.12 225.81,168.76 227.13,165.39 228.44,162.03 229.75,158.66 231.07,156.63 232.38,156.63 233.69,156.63 235.01,156.63 236.32,156.63 237.63,156.63 238.95,156.63 240.26,156.63 241.58,156.63 242.89,156.63 244.2,156.63 245.52,156.63 246.83,156.63 248.14,156.63 249.46,156.63 250.77,156.63 252.08,156.63 253.4,156.63 254.71,156.63 256.03,156.63 257.34,156.63 258.65,156.63 259.97,156.63 261.28,156.63 262.59,156.63 263.91,156.63 265.22,156.63 266.53,156.63 267.85,156.63 269.16,156.63 270.48,156.63 271.79,156.63 273.1,156.63 274.42,156.63 275.73,156.63 277.04,156.63 278.36,156.63 279.67,156.63 280.98,156.63 282.3,156.63 283.61,156.63 284.93,156.63 286.24,156.63 287.55,156.63 288.87,156.63 290.18,156.63 291.49,156.63 292.81,156.63 294.12,156.63 295.43,156.63 296.75,156.63 298.06,156.63 299.38,156.63 300.69,156.63 302,156.63 303.32,156.63 304.63,156.63 305.94,156.63 307.26,156.63 308.57,156.63 309.88,156.63 311.2,156.63 312.51,156.63 313.83,156.63 315.14,156.63 316.45,156.63 317.77,156.63 319.08,156.63 320.39,156.63 321.71,156.63 323.02,156.63 324.33,156.63 325.65,156.63 326.96,156.63 328.28,156.63 329.59,156.63 330.9,156.63 332.22,156.63 333.53,156.63 334.84,156.63 336.16,156.63 337.47,156.63 338.78,156.63 340.1,156.63 341.41,156.63 342.73,156.63 344.04,156.63 345.35,156.63 346.67,156.63 347.98,156.63"/>
<rect x="211.43" y="151.58" width="143.45" height="106.68" fill="none" stroke="#3a3a3a" stroke-width="0.6"/>
<line x1="217.93" y1="258.26" x2="217.93" y2="259.86" stroke="#222" stroke-width="0.45"/>
<text x="217.93" y="264.71" font-size="4.15" text-anchor="middle">0.0</text>
<line x1="209.83" y1="253.61" x2="211.43" y2="253.61" stroke="#222" stroke-width="0.45"/>
<text x="208.43" y="255.06" font-size="4.15" text-anchor="end">0.0</text>
<line x1="243.94" y1="258.26" x2="243.94" y2="259.86" stroke="#222" stroke-width="0.45"/>
<text x="243.94" y="264.71" font-size="4.15" text-anchor="middle">0.2</text>
<line x1="209.83" y1="234.21" x2="211.43" y2="234.21" stroke="#222" stroke-width="0.45"/>
<text x="208.43" y="235.66" font-size="4.15" text-anchor="end">0.2</text>
<line x1="269.95" y1="258.26" x2="269.95" y2="259.86" stroke="#222" stroke-width="0.45"/>
<text x="269.95" y="264.71" font-size="4.15" text-anchor="middle">0.4</text>
<line x1="209.83" y1="214.82" x2="211.43" y2="214.82" stroke="#222" stroke-width="0.45"/>
<text x="208.43" y="216.27" font-size="4.15" text-anchor="end">0.4</text>
<line x1="295.96" y1="258.26" x2="295.96" y2="259.86" stroke="#222" stroke-width="0.45"/>
<text x="295.96" y="264.71" font-size="4.15" text-anchor="middle">0.6</text>
<line x1="209.83" y1="195.42" x2="211.43" y2="195.42" stroke="#222" stroke-width="0.45"/>
<text x="208.43" y="196.87" font-size="4.15" text-anchor="end">0.6</text>
<line x1="321.97" y1="258.26" x2="321.97" y2="259.86" stroke="#222" stroke-width="0.45"/>
<text x="321.97" y="264.71" font-size="4.15" text-anchor="middle">0.8</text>
<line x1="209.83" y1="176.03" x2="211.43" y2="176.03" stroke="#222" stroke-width="0.45"/>
<text x="208.43" y="177.48" font-size="4.15" text-anchor="end">0.8</text>
<line x1="347.98" y1="258.26" x2="347.98" y2="259.86" stroke="#222" stroke-width="0.45"/>
<text x="347.98" y="264.71" font-size="4.15" text-anchor="middle">1.0</text>
<line x1="209.83" y1="156.63" x2="211.43" y2="156.63" stroke="#222" stroke-width="0.45"/>
<text x="208.43" y="158.08" font-size="4.15" text-anchor="end">1.0</text>
<text x="283.15" y="269.86" font-size="4.05" text-anchor="middle">False Positive Rate</text>
<text transform="translate(200.18,204.92) rotate(-90)" font-size="4.05" text-anchor="middle">True Positive Rate</text>
<text x="283.15" y="149.38" font-size="4.74" style="stroke-width:0.15px" text-anchor="middle">CPCNN4</text>
<rect x="288.43" y="219.78" width="64.5" height="36.48" rx="0.9" fill="#fff" fill-opacity="0.8" stroke="#ccc" stroke-opacity="0.8" stroke-width="0.4"/>
<line x1="289.93" y1="223.28" x2="298.13" y2="223.28" stroke="#6aa4d1" stroke-width="1.0"/>
<text x="301.33" y="224.73" font-size="4.0">ROC fold 0 (area = 0.95)</text>
<line x1="289.93" y1="229.16" x2="298.13" y2="229.16" stroke="#ffac63" stroke-width="1.0"/>
<text x="301.33" y="230.61" font-size="4.0">ROC fold 1 (area = 0.97)</text>
<line x1="289.93" y1="235.04" x2="298.13" y2="235.04" stroke="#78c278" stroke-width="1.0"/>
<text x="301.33" y="236.49" font-size="4.0">ROC fold 2 (area = 1.00)</text>
<line x1="289.93" y1="240.92" x2="298.13" y2="240.92" stroke="#ff1010" stroke-width="1.05" stroke-dasharray="2.98,1.29"/>
<text x="301.33" y="242.37" font-size="4.0">Luck</text>
<line x1="289.93" y1="246.8" x2="298.13" y2="246.8" stroke="#1a1aff" stroke-width="1.15"/>
<text x="301.33" y="248.25" font-size="4.0">Mean ROC (area = 0.97)</text>
<rect x="289.93" y="251.23" width="8.2" height="2.9" fill="#868686"/>
<text x="301.33" y="254.13" font-size="4.0">± 1 std. dev.</text>
</g>
<g>
<polygon fill="#868686" points="405.71,253.61 427.81,231.6 449.91,209.6 472.02,187.59 494.12,165.59 507.44,157.73 518.68,156.63 523.06,156.63 527.44,156.63 531.82,156.63 535.76,156.63 535.76,156.63 535.76,156.63 535.76,156.63 535.76,156.63 535.76,156.63 535.76,156.63 535.76,156.63 535.76,156.63 535.76,156.63 535.76,156.63 535.76,156.63 535.76,156.63 535.76,156.63 535.76,156.63 535.76,156.63 535.76,156.63 535.76,156.63 535.76,156.63 535.76,156.63 535.76,156.63 535.76,156.63 535.76,156.63 535.76,156.63 535.76,156.63 535.76,156.63 535.76,156.63 535.76,156.63 535.76,156.63 535.76,156.63 535.76,156.63 535.76,156.63 535.76,156.63 535.76,156.63 535.76,156.63 535.76,156.63 535.76,156.63 535.76,156.63 535.76,156.63 535.76,156.63 535.76,156.63 535.76,156.63 535.76,156.63 535.76,156.63 535.76,156.63 535.76,156.63 535.76,156.63 535.76,156.63 535.76,156.63 535.76,156.63 535.76,156.63 535.76,156.63 535.76,156.63 535.76,156.63 535.76,156.63 535.76,156.63 535.76,156.63 535.76,156.63 535.76,156.63 535.76,156.63 535.76,156.63 535.76,156.63 535.76,156.63 535.76,156.63 535.76,156.63 535.76,156.63 535.76,156.63 535.76,156.63 535.76,156.63 535.76,156.63 535.76,156.63 535.76,156.63 535.76,156.63 535.76,156.63 535.76,156.63 535.76,156.63 535.76,156.63 535.76,156.63 535.76,156.63 535.76,156.63 535.76,156.63 535.76,156.63 535.76,156.63 535.76,156.63 535.76,156.63 535.76,156.63 535.76,156.63 535.76,156.63 535.76,156.63 535.76,156.63 535.76,156.63 535.76,156.63 535.76,156.63 535.76,156.63 535.76,156.63 535.76,156.63 535.76,156.63 535.76,156.63 535.76,156.63 535.76,156.63 535.76,156.63 535.76,156.63 535.76,156.63 535.76,156.63 535.76,156.63 535.76,156.63 535.76,156.63 535.76,156.63 535.76,156.63 535.76,156.63 535.76,156.63 535.76,156.63 535.76,156.63 535.76,156.63 535.76,156.63 535.76,156.63 535.76,156.63 535.76,156.63 535.76,156.63 535.76,156.63 535.76,156.63 535.76,156.63 535.76,156.63 535.76,156.63 535.76,156.63 535.76,156.63 535.76,156.63 535.76,156.63 535.76,156.63 535.76,156.63 535.76,156.63 535.76,156.63 535.76,156.63 535.76,156.63 535.76,156.63 535.76,156.63 535.76,156.63 535.76,156.63 535.76,156.63 535.76,156.63 535.76,156.63 535.76,156.63 535.76,156.63 535.76,156.63 535.76,156.63 535.76,156.63 535.76,156.63 535.76,156.63 535.76,156.63 535.76,156.63 535.76,156.63 535.76,156.63 535.76,156.63 535.76,156.63 535.76,156.63 535.76,156.63 535.76,156.63 535.76,156.63 535.76,156.63 535.76,156.63 535.76,156.63 535.76,156.63 535.76,156.63 535.76,156.63 535.76,156.63 535.76,156.63 535.76,156.63 535.76,156.63 535.76,156.63 535.76,156.63 535.76,156.63 535.76,156.63 535.76,156.63 535.76,156.63 535.76,156.63 535.76,156.63 535.76,156.63 535.76,156.63 535.76,156.63 535.76,156.63 531.82,163.72 527.44,171.61 523.06,179.49 518.68,187.37 507.44,197.76 494.12,209.78 472.02,220.74 449.91,231.69 427.81,242.65 405.71,253.61"/>
<polyline fill="none" stroke="#6aa4d1" stroke-width="1.0" stroke-linejoin="round" points="405.71,253.61 411.17,156.63 535.76,156.63"/>
<polyline fill="none" stroke="#ffac63" stroke-width="1.0" stroke-linejoin="round" points="405.71,253.61 418.71,156.63 535.76,156.63"/>
<polyline fill="none" stroke="#78c278" stroke-width="1.0" stroke-linejoin="round" points="405.71,253.61 413.51,156.63 535.76,156.63"/>
<line x1="405.71" y1="253.61" x2="535.76" y2="156.63" stroke="#ff1010" stroke-width="1.05" stroke-dasharray="2.98,1.29"/>
<polyline fill="none" stroke="#1a1aff" stroke-width="1.15" stroke-linejoin="round" points="405.71,253.61 407.02,237.13 408.34,220.65 409.65,204.16 410.96,187.68 412.28,177.75 413.59,169.36 414.91,166.1 416.22,162.83 417.53,159.57 418.85,156.63 420.16,156.63 421.47,156.63 422.79,156.63 424.1,156.63 425.41,156.63 426.73,156.63 428.04,156.63 429.36,156.63 430.67,156.63 431.98,156.63 433.3,156.63 434.61,156.63 435.92,156.63 437.24,156.63 438.55,156.63 439.86,156.63 441.18,156.63 442.49,156.63 443.81,156.63 445.12,156.63 446.43,156.63 447.75,156.63 449.06,156.63 450.37,156.63 451.69,156.63 453,156.63 454.31,156.63 455.63,156.63 456.94,156.63 458.26,156.63 459.57,156.63 460.88,156.63 462.2,156.63 463.51,156.63 464.82,156.63 466.14,156.63 467.45,156.63 468.76,156.63 470.08,156.63 471.39,156.63 472.71,156.63 474.02,156.63 475.33,156.63 476.65,156.63 477.96,156.63 479.27,156.63 480.59,156.63 481.9,156.63 483.21,156.63 484.53,156.63 485.84,156.63 487.16,156.63 488.47,156.63 489.78,156.63 491.1,156.63 492.41,156.63 493.72,156.63 495.04,156.63 496.35,156.63 497.66,156.63 498.98,156.63 500.29,156.63 501.61,156.63 502.92,156.63 504.23,156.63 505.55,156.63 506.86,156.63 508.17,156.63 509.49,156.63 510.8,156.63 512.11,156.63 513.43,156.63 514.74,156.63 516.06,156.63 517.37,156.63 518.68,156.63 520,156.63 521.31,156.63 522.62,156.63 523.94,156.63 525.25,156.63 526.56,156.63 527.88,156.63 529.19,156.63 530.51,156.63 531.82,156.63 533.13,156.63 534.45,156.63 535.76,156.63"/>
<rect x="399.31" y="151.58" width="143.45" height="106.68" fill="none" stroke="#3a3a3a" stroke-width="0.6"/>
<line x1="405.71" y1="258.26" x2="405.71" y2="259.86" stroke="#222" stroke-width="0.45"/>
<text x="405.71" y="264.71" font-size="4.15" text-anchor="middle">0.0</text>
<line x1="397.71" y1="253.61" x2="399.31" y2="253.61" stroke="#222" stroke-width="0.45"/>
<text x="396.31" y="255.06" font-size="4.15" text-anchor="end">0.0</text>
<line x1="431.72" y1="258.26" x2="431.72" y2="259.86" stroke="#222" stroke-width="0.45"/>
<text x="431.72" y="264.71" font-size="4.15" text-anchor="middle">0.2</text>
<line x1="397.71" y1="234.21" x2="399.31" y2="234.21" stroke="#222" stroke-width="0.45"/>
<text x="396.31" y="235.66" font-size="4.15" text-anchor="end">0.2</text>
<line x1="457.73" y1="258.26" x2="457.73" y2="259.86" stroke="#222" stroke-width="0.45"/>
<text x="457.73" y="264.71" font-size="4.15" text-anchor="middle">0.4</text>
<line x1="397.71" y1="214.82" x2="399.31" y2="214.82" stroke="#222" stroke-width="0.45"/>
<text x="396.31" y="216.27" font-size="4.15" text-anchor="end">0.4</text>
<line x1="483.74" y1="258.26" x2="483.74" y2="259.86" stroke="#222" stroke-width="0.45"/>
<text x="483.74" y="264.71" font-size="4.15" text-anchor="middle">0.6</text>
<line x1="397.71" y1="195.42" x2="399.31" y2="195.42" stroke="#222" stroke-width="0.45"/>
<text x="396.31" y="196.87" font-size="4.15" text-anchor="end">0.6</text>
<line x1="509.75" y1="258.26" x2="509.75" y2="259.86" stroke="#222" stroke-width="0.45"/>
<text x="509.75" y="264.71" font-size="4.15" text-anchor="middle">0.8</text>
<line x1="397.71" y1="176.03" x2="399.31" y2="176.03" stroke="#222" stroke-width="0.45"/>
<text x="396.31" y="177.48" font-size="4.15" text-anchor="end">0.8</text>
<line x1="535.76" y1="258.26" x2="535.76" y2="259.86" stroke="#222" stroke-width="0.45"/>
<text x="535.76" y="264.71" font-size="4.15" text-anchor="middle">1.0</text>
<line x1="397.71" y1="156.63" x2="399.31" y2="156.63" stroke="#222" stroke-width="0.45"/>
<text x="396.31" y="158.08" font-size="4.15" text-anchor="end">1.0</text>
<text x="471.03" y="269.86" font-size="4.05" text-anchor="middle">False Positive Rate</text>
<text transform="translate(388.06,204.92) rotate(-90)" font-size="4.05" text-anchor="middle">True Positive Rate</text>
<text x="471.03" y="149.38" font-size="4.74" style="stroke-width:0.15px" text-anchor="middle">CPCNN5</text>
<rect x="476.31" y="219.78" width="64.5" height="36.48" rx="0.9" fill="#fff" fill-opacity="0.8" stroke="#ccc" stroke-opacity="0.8" stroke-width="0.4"/>
<line x1="477.81" y1="223.28" x2="486.01" y2="223.28" stroke="#6aa4d1" stroke-width="1.0"/>
<text x="489.21" y="224.73" font-size="4.0">ROC fold 0 (area = 0.98)</text>
<line x1="477.81" y1="229.16" x2="486.01" y2="229.16" stroke="#ffac63" stroke-width="1.0"/>
<text x="489.21" y="230.61" font-size="4.0">ROC fold 1 (area = 0.95)</text>
<line x1="477.81" y1="235.04" x2="486.01" y2="235.04" stroke="#78c278" stroke-width="1.0"/>
<text x="489.21" y="236.49" font-size="4.0">ROC fold 2 (area = 0.97)</text>
<line x1="477.81" y1="240.92" x2="486.01" y2="240.92" stroke="#ff1010" stroke-width="1.05" stroke-dasharray="2.98,1.29"/>
<text x="489.21" y="242.37" font-size="4.0">Luck</text>
<line x1="477.81" y1="246.8" x2="486.01" y2="246.8" stroke="#1a1aff" stroke-width="1.15"/>
<text x="489.21" y="248.25" font-size="4.0">Mean ROC (area = 0.97)</text>
<rect x="477.81" y="251.23" width="8.2" height="2.9" fill="#868686"/>
<text x="489.21" y="254.13" font-size="4.0">± 1 std. dev.</text>
</g>
</svg>
</body></html>
